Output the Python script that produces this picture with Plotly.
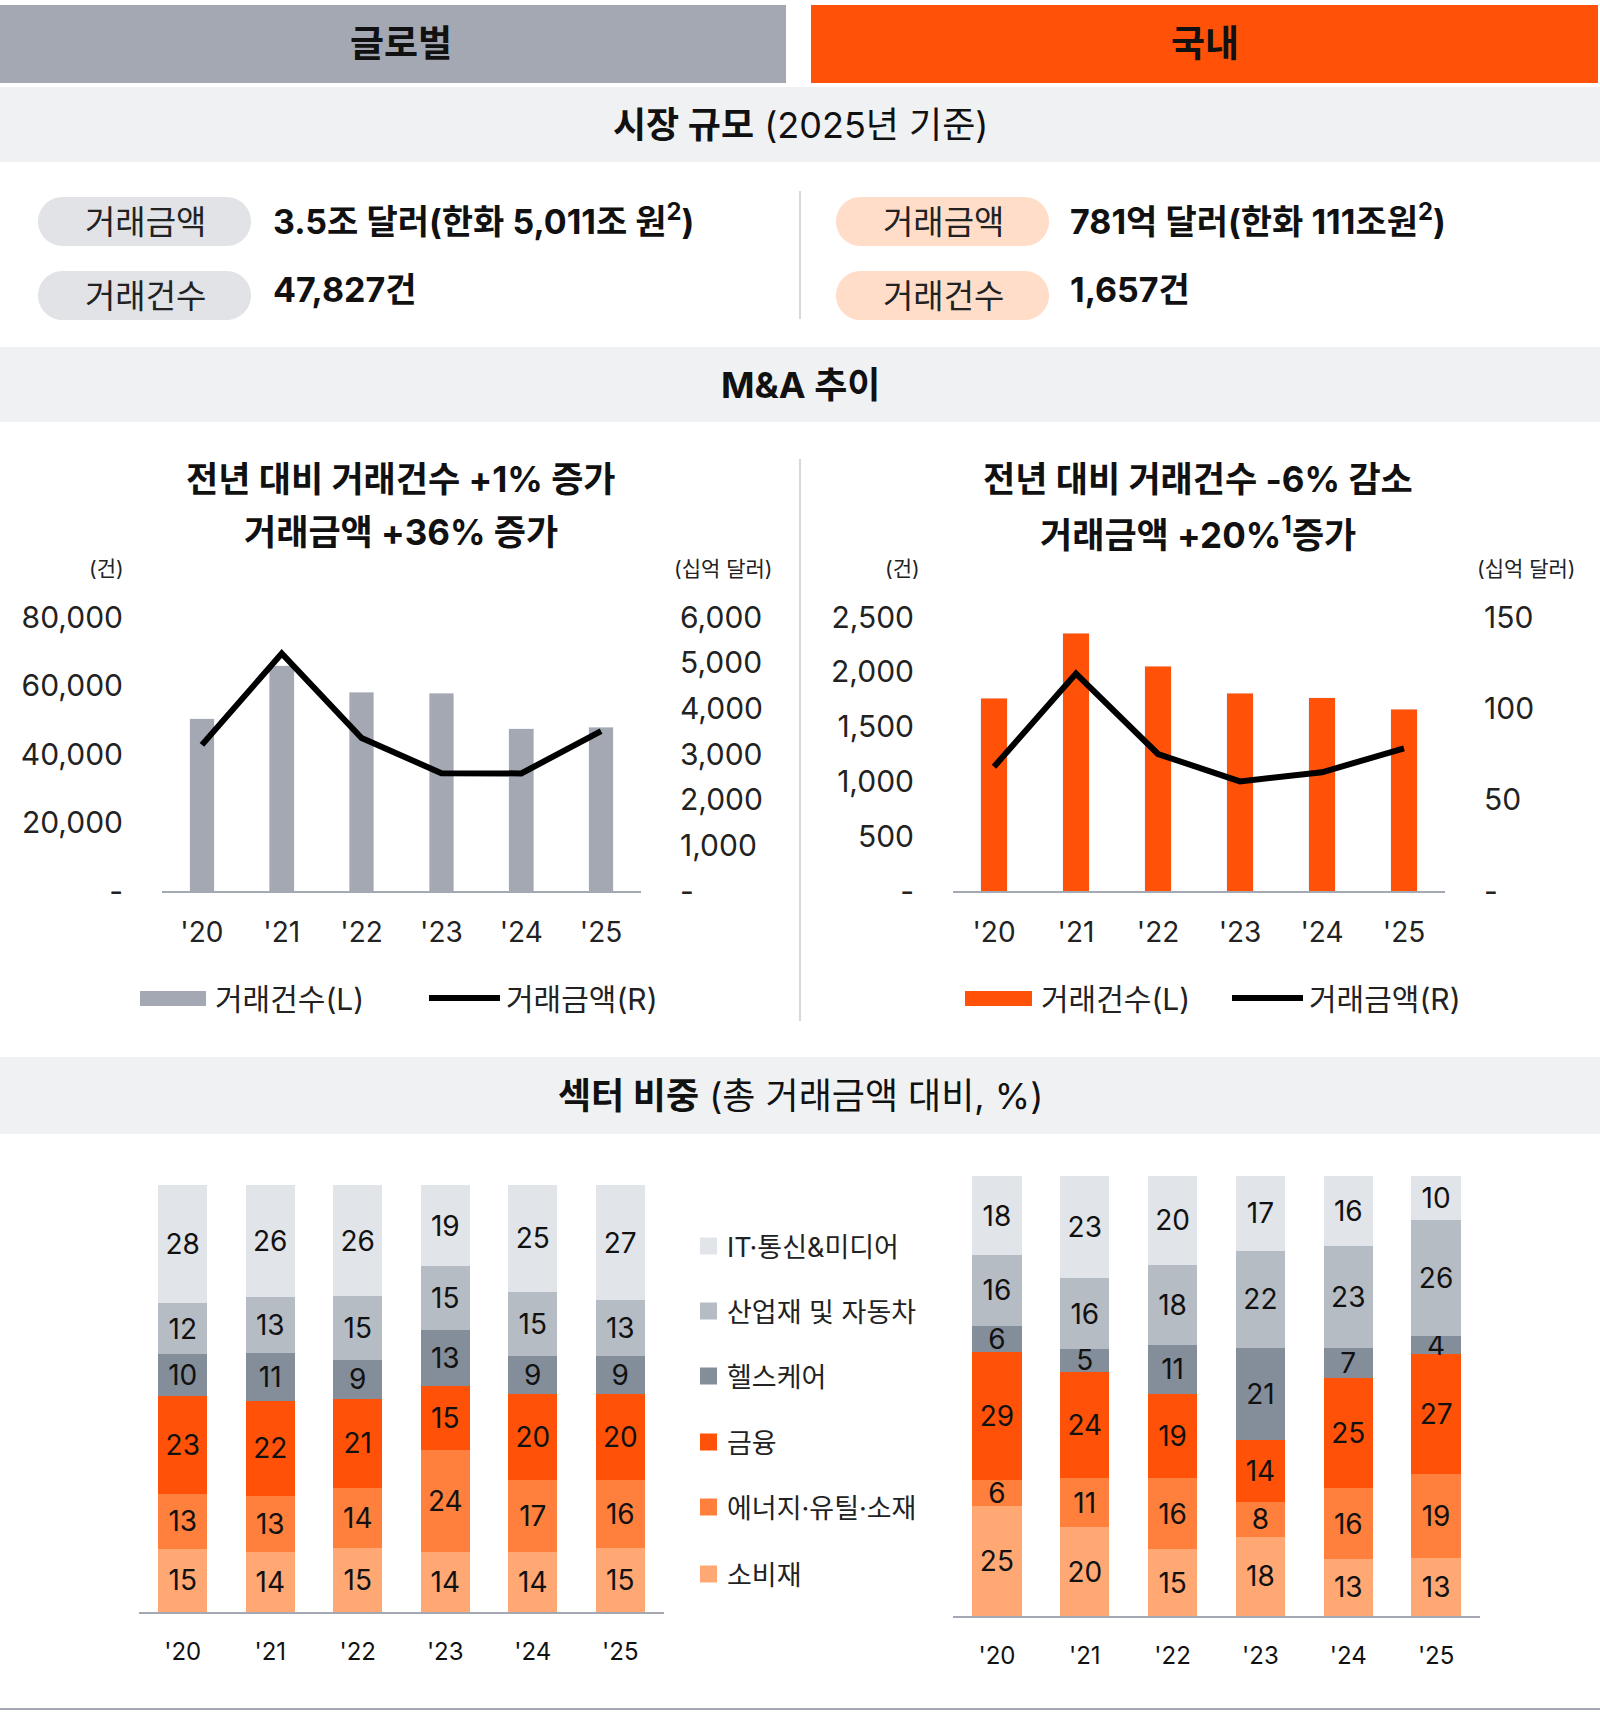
import plotly.graph_objects as go
import numpy as np

W, H = 1600, 1712
FONT = "Inter, Noto Sans CJK KR, sans-serif"

# ---------------- data ----------------
years = ["'20", "'21", "'22", "'23", "'24", "'25"]

global_deal_count = [50300, 65700, 58100, 57700, 47350, 47827]   # 건 (L)
global_deal_value = [3200, 5200, 3350, 2580, 2575, 3500]         # 십억 달러 (R)
korea_deal_count = [1760, 2350, 2050, 1805, 1763, 1657]          # 건 (L)
korea_deal_value = [68, 119, 75, 60, 65, 78.1]                   # 십억 달러 (R)

global_count_ticks = [0, 20000, 40000, 60000, 80000]
global_count_labels = ["-", "20,000", "40,000", "60,000", "80,000"]
global_value_ticks = [0, 1000, 2000, 3000, 4000, 5000, 6000]
global_value_labels = ["-", "1,000", "2,000", "3,000", "4,000", "5,000", "6,000"]
korea_count_ticks = [0, 500, 1000, 1500, 2000, 2500]
korea_count_labels = ["-", "500", "1,000", "1,500", "2,000", "2,500"]
korea_value_ticks = [0, 50, 100, 150]
korea_value_labels = ["-", "50", "100", "150"]

# sectors, bottom to top
sector_names = ["소비재", "에너지·유틸·소재", "금융", "헬스케어", "산업재 및 자동차", "IT·통신&미디어"]
global_consumer = [15, 14, 15, 14, 14, 15]
global_energy = [13, 13, 14, 24, 17, 16]
global_finance = [23, 22, 21, 15, 20, 20]
global_health = [10, 11, 9, 13, 9, 9]
global_industrial = [12, 13, 15, 15, 15, 13]
global_it = [28, 26, 26, 19, 25, 27]

korea_consumer = [25, 20, 15, 18, 13, 13]
korea_energy = [6, 11, 16, 8, 16, 19]
korea_finance = [29, 24, 19, 14, 25, 27]
korea_health = [6, 5, 11, 21, 7, 4]
korea_industrial = [16, 16, 18, 22, 23, 26]
korea_it = [18, 23, 20, 17, 16, 10]

# ---------------- styles ----------------
GRAY_BAR = "#A3A8B2"
ORANGE = "#FF5208"
BAND = "#F0F1F3"
sector_colors = ["#FFA874", "#FF7F3C", "#FF5208", "#848D9A", "#B6BCC4", "#E1E4E8"]


def px(x):
    return x / W


def py(y):
    return 1 - y / H


fig = go.Figure()

# ---- M&A charts ----
fig.add_trace(go.Bar(x=years, y=global_deal_count, marker_color=GRAY_BAR, width=0.31,
                     xaxis="x", yaxis="y", showlegend=False))
fig.add_trace(go.Scatter(x=years, y=global_deal_value, mode="lines",
                         line=dict(color="#000000", width=6), xaxis="x", yaxis="y2",
                         showlegend=False))
fig.add_trace(go.Bar(x=years, y=korea_deal_count, marker_color=ORANGE, width=0.32,
                     xaxis="x2", yaxis="y3", showlegend=False))
fig.add_trace(go.Scatter(x=years, y=korea_deal_value, mode="lines",
                         line=dict(color="#000000", width=6), xaxis="x2", yaxis="y4",
                         showlegend=False))

# ---- sector charts ----
global_sectors = [global_consumer, global_energy, global_finance, global_health,
                  global_industrial, global_it]
korea_sectors = [korea_consumer, korea_energy, korea_finance, korea_health,
                 korea_industrial, korea_it]


def add_sector(series_list, xa, ya):
    arr = np.array(series_list, dtype=float)
    totals = arr.sum(axis=0)
    for name, vals, col in zip(sector_names, series_list, sector_colors):
        heights = np.array(vals, dtype=float) / totals * 100
        fig.add_trace(go.Bar(
            x=years, y=heights, text=[str(v) for v in vals], texttemplate="%{text}",
            textposition="inside", insidetextanchor="middle", textangle=0,
            textfont=dict(size=28, color="#111111", family=FONT),
            marker=dict(color=col, line=dict(width=0)), width=0.56, name=name,
            xaxis=xa, yaxis=ya, showlegend=False))


add_sector(global_sectors, "x3", "y5")
add_sector(korea_sectors, "x4", "y6")

# ---------------- axes ----------------
ma_dom = [py(891), py(617)]
xcommon = dict(type="category", showline=True, linecolor=GRAY_BAR, linewidth=2,
               ticks="", showgrid=False, zeroline=False, fixedrange=True, automargin=False)
ycommon = dict(showgrid=False, zeroline=False, showline=False, ticks="", automargin=False,
               tickfont=dict(size=30, color="#222222"), fixedrange=True)

layout = dict(
    width=W, height=H, margin=dict(l=0, r=0, t=0, b=0, pad=0, autoexpand=False),
    paper_bgcolor="white", plot_bgcolor="rgba(0,0,0,0)",
    font=dict(family=FONT, color="#111111"),
    barmode="stack",
    uniformtext=dict(minsize=28, mode="show"),
    xaxis=dict(domain=[px(162), px(641)], anchor="y", tickfont=dict(size=28, color="#222"),
               ticklabelstandoff=15, **xcommon),
    yaxis=dict(domain=ma_dom, anchor="x", range=[0, 80000], tickvals=global_count_ticks,
               ticktext=global_count_labels, ticklabelstandoff=38, **ycommon),
    yaxis2=dict(overlaying="y", anchor="x", side="right", range=[0, 6000],
                tickvals=global_value_ticks, ticktext=global_value_labels,
                ticklabelstandoff=38, **ycommon),
    xaxis2=dict(domain=[px(953), px(1445)], anchor="y3", tickfont=dict(size=28, color="#222"),
                ticklabelstandoff=15, **xcommon),
    yaxis3=dict(domain=ma_dom, anchor="x2", range=[0, 2500], tickvals=korea_count_ticks,
                ticktext=korea_count_labels, ticklabelstandoff=38, **ycommon),
    yaxis4=dict(overlaying="y3", anchor="x2", side="right", range=[0, 150],
                tickvals=korea_value_ticks, ticktext=korea_value_labels,
                ticklabelstandoff=38, **ycommon),
    xaxis3=dict(domain=[px(139), px(664)], anchor="y5", tickfont=dict(size=24, color="#111"),
                ticklabelstandoff=17, **xcommon),
    yaxis5=dict(domain=[py(1612), py(1185)], anchor="x3", range=[0, 100], visible=False,
                fixedrange=True, automargin=False),
    xaxis4=dict(domain=[px(953), px(1480)], anchor="y6", tickfont=dict(size=24, color="#111"),
                ticklabelstandoff=17, **xcommon),
    yaxis6=dict(domain=[py(1616), py(1176)], anchor="x4", range=[0, 100], visible=False,
                fixedrange=True, automargin=False),
)
fig.update_layout(**layout)

# ---------------- shapes ----------------
shapes = []


def rect(x0, y0, x1, y1, color):
    shapes.append(dict(type="rect", xref="paper", yref="paper", x0=px(x0), x1=px(x1),
                       y0=py(y1), y1=py(y0), fillcolor=color, line=dict(width=0),
                       layer="below"))


def hline(x0, x1, y, color, width):
    shapes.append(dict(type="line", xref="paper", yref="paper", x0=px(x0), x1=px(x1),
                       y0=py(y), y1=py(y), line=dict(color=color, width=width)))


def vline(x, y0, y1, color, width):
    shapes.append(dict(type="line", xref="paper", yref="paper", x0=px(x), x1=px(x),
                       y0=py(y0), y1=py(y1), line=dict(color=color, width=width)))


def pill(x0, y0, x1, y1, color):
    r = (y1 - y0) / 2
    k = 0.5523 * r
    ym = (y0 + y1) / 2

    def P(x, y):
        return f"{px(x):.6f},{py(y):.6f}"
    path = (f"M {P(x0 + r, y0)} L {P(x1 - r, y0)} "
            f"C {P(x1 - r + k, y0)} {P(x1, ym - k)} {P(x1, ym)} "
            f"C {P(x1, ym + k)} {P(x1 - r + k, y1)} {P(x1 - r, y1)} "
            f"L {P(x0 + r, y1)} "
            f"C {P(x0 + r - k, y1)} {P(x0, ym + k)} {P(x0, ym)} "
            f"C {P(x0, ym - k)} {P(x0 + r - k, y0)} {P(x0 + r, y0)} Z")
    shapes.append(dict(type="path", xref="paper", yref="paper", path=path,
                       fillcolor=color, line=dict(width=0), layer="below"))


# header bars
rect(0, 5, 786, 83, "#A3A8B2")
rect(811, 5, 1598, 83, ORANGE)
# section bands
rect(0, 87, 1600, 162, BAND)
rect(0, 347, 1600, 422, BAND)
rect(0, 1057, 1600, 1134, BAND)
# pills
pill(38, 197, 251, 246, "#E1E3E6")
pill(38, 271, 251, 320, "#E1E3E6")
pill(836, 197, 1049, 246, "#FFDDC8")
pill(836, 271, 1049, 320, "#FFDDC8")
# dividers
vline(800, 191, 319, "#D5D8DD", 2)
vline(800, 459, 1021, "#D5D8DD", 2)
hline(0, 1600, 1709, "#A3A8B2", 2)
# M&A legends
rect(140, 991, 206, 1006, GRAY_BAR)
hline(429, 500, 998, "#000000", 6)
rect(965, 991, 1032, 1006, ORANGE)
hline(1232, 1303, 998, "#000000", 6)
# sector legend squares (top to bottom)
leg_y = [1246, 1311, 1376, 1442, 1507, 1574]
for yy, col in zip(leg_y, sector_colors[::-1]):
    rect(700, yy - 8.5, 717, yy + 8.5, col)

fig.update_layout(shapes=shapes)

# ---------------- annotations ----------------
anns = []


def ann(x, y, text, size, xanchor="center", color="#111111"):
    anns.append(dict(x=px(x), y=py(y), xref="paper", yref="paper", text=text,
                     showarrow=False, xanchor=xanchor, yanchor="middle",
                     font=dict(size=size, color=color, family=FONT)))


ann(401, 44, "<b>글로벌</b>", 37)
ann(1205, 44, "<b>국내</b>", 37)
ann(800, 125, "<b>시장 규모</b> (2025년 기준)", 36)

ann(145, 222, "거래금액", 33, color="#222")
ann(145, 296, "거래건수", 33, color="#222")
ann(943, 222, "거래금액", 33, color="#222")
ann(943, 296, "거래건수", 33, color="#222")
ann(271, 219, "<b>3.5조 달러(한화 5,011조 원<sup>2</sup>)</b>", 34, xanchor="left")
ann(271, 289, "<b>47,827건</b>", 34, xanchor="left")
ann(1068, 219, "<b>781억 달러(한화 111조원<sup>2</sup>)</b>", 34, xanchor="left")
ann(1068, 289, "<b>1,657건</b>", 34, xanchor="left")

ann(800, 385, "<b>M&A 추이</b>", 36)

ann(401, 479, "<b>전년 대비 거래건수 +1% 증가</b>", 35)
ann(401, 532, "<b>거래금액 +36% 증가</b>", 35)
ann(1198, 479, "<b>전년 대비 거래건수 -6% 감소</b>", 35)
ann(1198, 532, "<b>거래금액 +20%<sup>1</sup>증가</b>", 35)

ann(106, 568, "(건)", 21, color="#222")
ann(723, 568, "(십억 달러)", 21, color="#222")
ann(903, 568, "(건)", 21, color="#222")
ann(1526, 568, "(십억 달러)", 21, color="#222")

ann(213, 999, "거래건수(L)", 30, xanchor="left", color="#222")
ann(504, 999, "거래금액(R)", 30, xanchor="left", color="#222")
ann(1039, 999, "거래건수(L)", 30, xanchor="left", color="#222")
ann(1307, 999, "거래금액(R)", 30, xanchor="left", color="#222")

ann(800, 1096, "<b>섹터 비중</b> (총 거래금액 대비, %)", 36)

for yy, name in zip(leg_y, sector_names[::-1]):
    ann(725, yy + 1, name, 27, xanchor="left", color="#222")

fig.update_layout(annotations=anns)

fig.write_html("out.html", config={"displayModeBar": False},
               post_script="document.body.style.margin='0';document.body.style.padding='0';"
                           "document.body.style.overflow='hidden';")
